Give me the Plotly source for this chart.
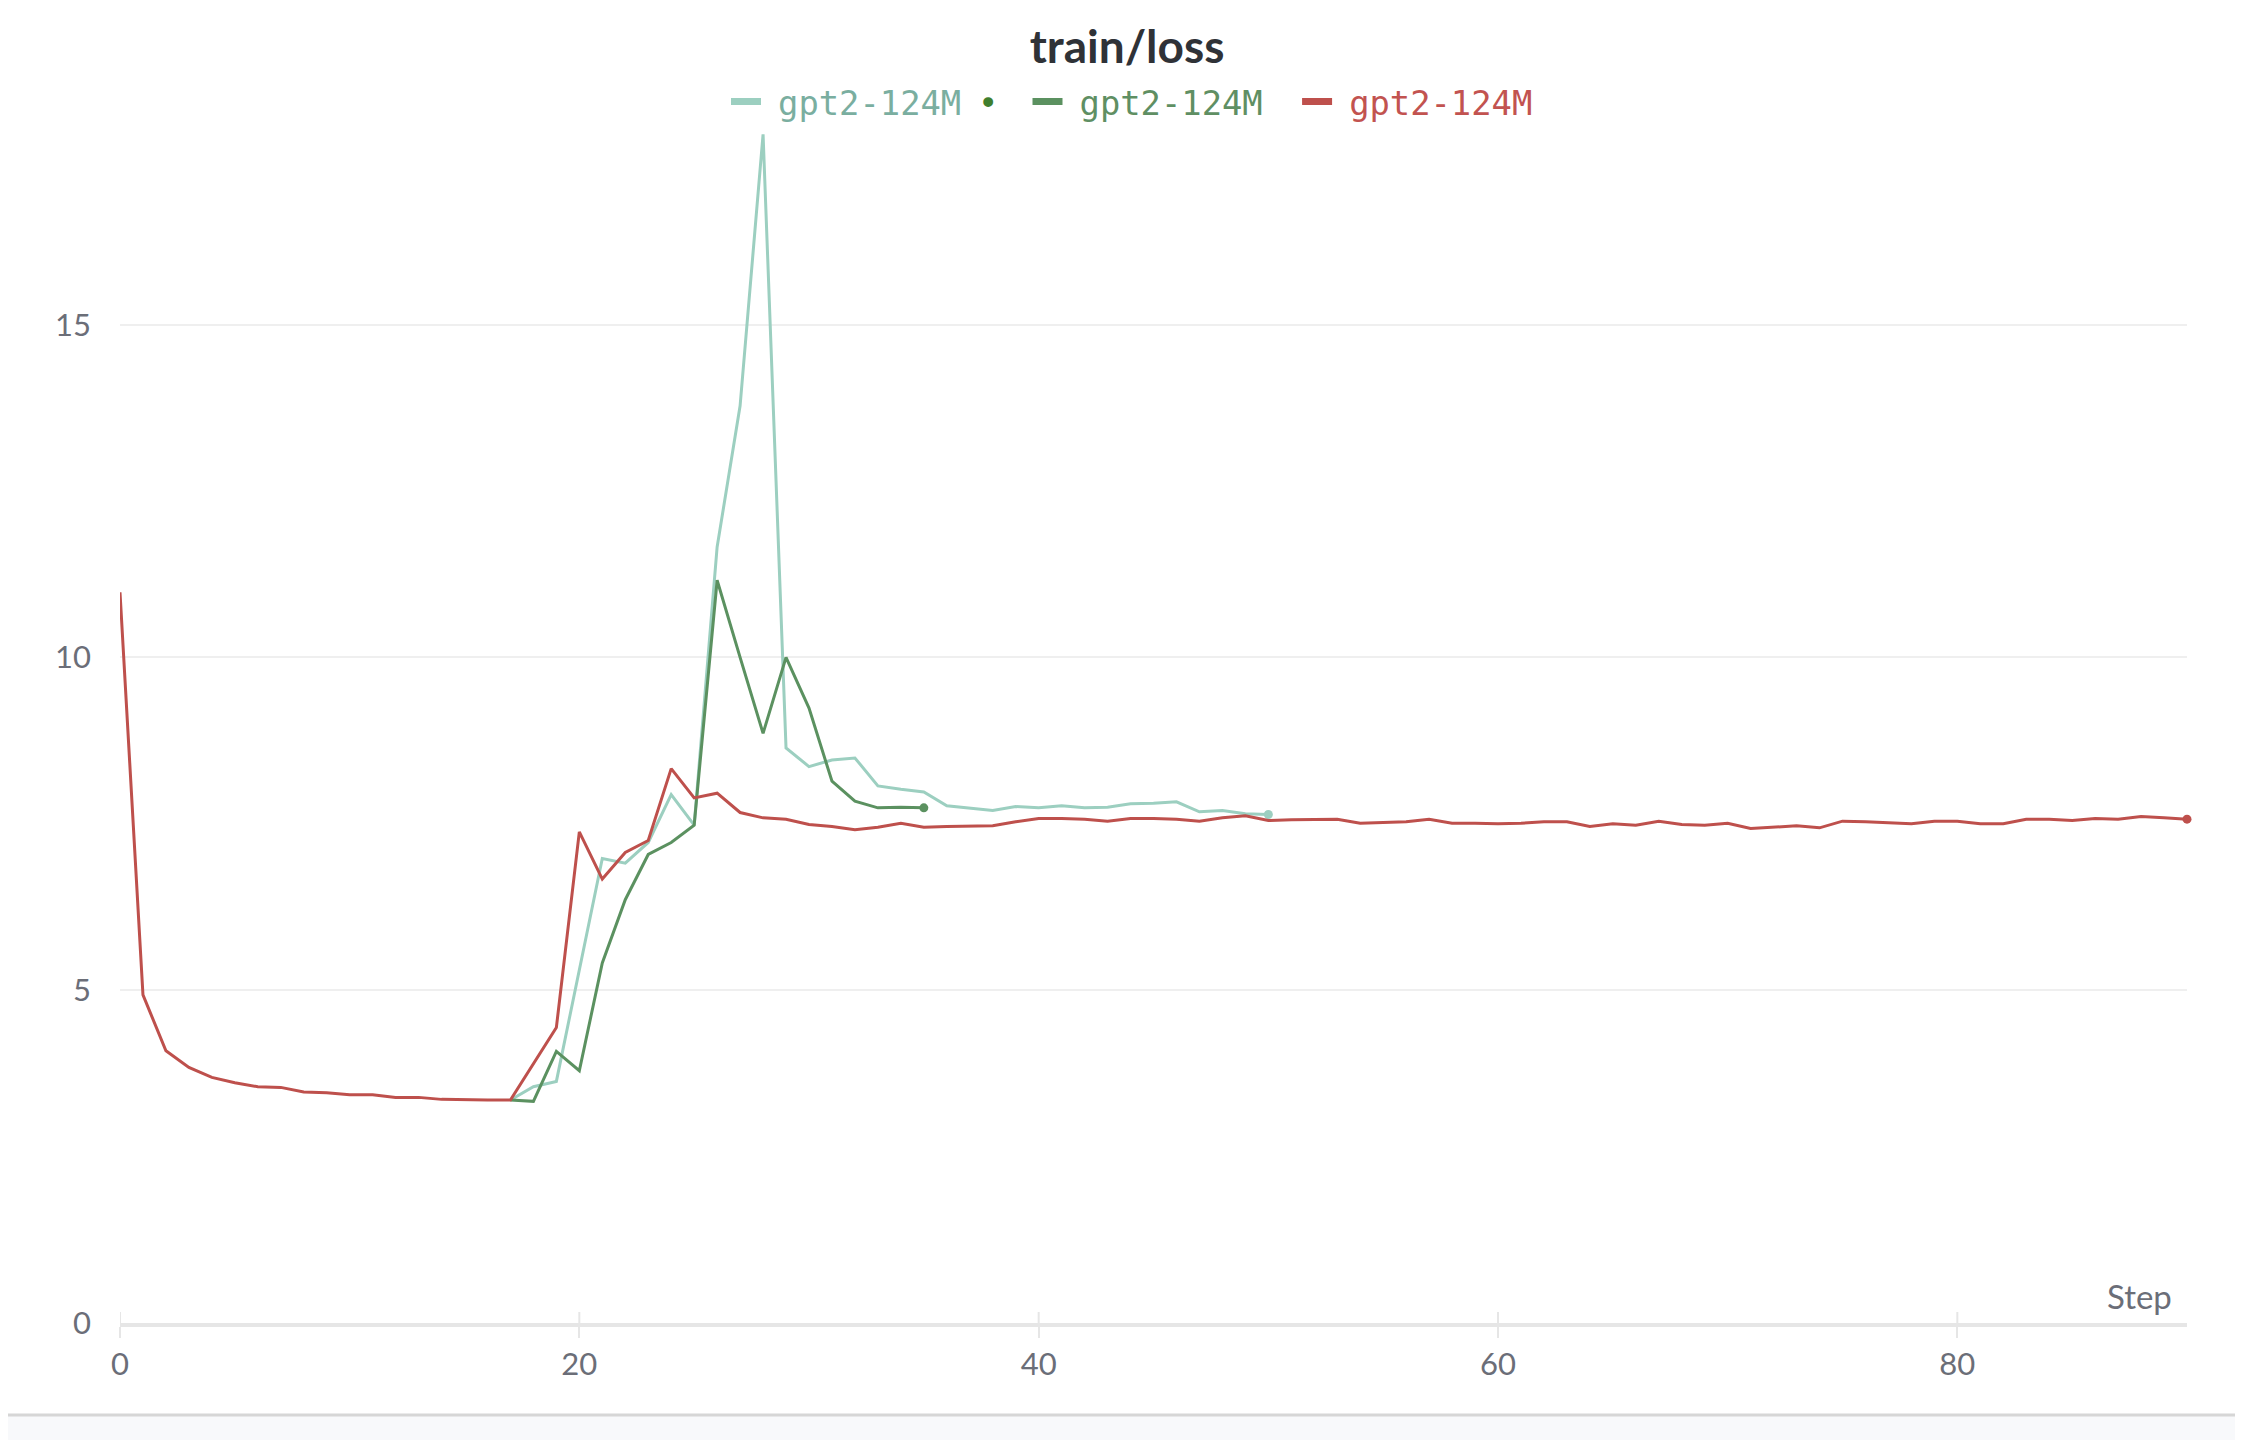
import plotly.graph_objects as go

# train/loss per step, three runs
red_steps = list(range(0, 91))
red_loss = [
    10.98, 4.93, 4.09, 3.84, 3.69, 3.61, 3.55, 3.54, 3.47, 3.46,
    3.43, 3.43, 3.39, 3.39, 3.36, 3.35, 3.35, 3.35, 3.89, 4.44,
    7.38, 6.67, 7.07, 7.25, 8.33, 7.89, 7.96, 7.67, 7.59, 7.57,
    7.49, 7.46, 7.41, 7.45, 7.51, 7.45, 7.46, 7.46, 7.47, 7.53,
    7.58, 7.58, 7.57, 7.54, 7.58, 7.58, 7.57, 7.54, 7.59, 7.62,
    7.55, 7.56, 7.57, 7.57, 7.51, 7.52, 7.53, 7.57, 7.51, 7.51,
    7.50, 7.51, 7.53, 7.53, 7.46, 7.50, 7.48, 7.54, 7.49, 7.48,
    7.51, 7.43, 7.45, 7.47, 7.44, 7.54, 7.53, 7.51, 7.50, 7.54,
    7.54, 7.50, 7.50, 7.57, 7.57, 7.55, 7.58, 7.57, 7.61, 7.59,
    7.57,
]

teal_steps = list(range(17, 51))
teal_loss = [
    3.35, 3.55, 3.63, 5.30, 6.98, 6.91, 7.22, 7.94, 7.48, 11.66,
    13.78, 17.86, 8.64, 8.36, 8.46, 8.49, 8.07, 8.02, 7.98, 7.77,
    7.73, 7.70, 7.76, 7.74, 7.77, 7.74, 7.75, 7.80, 7.81, 7.83,
    7.68, 7.70, 7.65, 7.64,
]

green_steps = list(range(17, 36))
green_loss = [
    3.35, 3.33, 4.08, 3.79, 5.41, 6.36, 7.04, 7.22, 7.48, 11.16,
    10.0, 8.86, 10.0, 9.24, 8.14, 7.84, 7.74, 7.75, 7.74,
]

run_names = ["gpt2-124M", "gpt2-124M", "gpt2-124M"]
x_ticks = [0, 20, 40, 60, 80]
y_ticks = [0, 5, 10, 15]

TEAL, TEAL_TXT = "#9ccfc0", "#7aaea0"
GREEN, GREEN_TXT = "#5b9160", "#5f8f63"
RED, RED_TXT = "#be504c", "#c25350"
DOT = "#3f7f2e"


def gap(px_size):
    # a non-breaking space at a given font size, used as a spacer
    return f"<span style='font-size:{px_size}px'>\u00a0</span>"


fig = go.Figure()

series = [
    (teal_steps, teal_loss, TEAL),
    (green_steps, green_loss, GREEN),
    (red_steps, red_loss, RED),
]
for xs, ys, col in series:
    fig.add_trace(go.Scatter(x=xs, y=ys, mode="lines", line=dict(color=col, width=3),
                             showlegend=False, hoverinfo="skip"))
    # dot at the last logged point
    fig.add_trace(go.Scatter(x=[xs[-1]], y=[ys[-1]], mode="markers",
                             marker=dict(color=col, size=9), showlegend=False,
                             cliponaxis=False, hoverinfo="skip"))

# legend-only entries (thick short swatches, coloured names)
legend_items = [
    (TEAL, gap(20) + f"<span style='color:{TEAL_TXT}'>{run_names[0]}</span>" + gap(28)
           + f"<span style='color:{DOT}'>•</span>" + gap(40)),
    (GREEN, gap(20) + f"<span style='color:{GREEN_TXT}'>{run_names[1]}</span>\u00a0" + gap(15)),
    (RED, gap(20) + f"<span style='color:{RED_TXT}'>{run_names[2]}</span>"),
]
for col, label in legend_items:
    fig.add_trace(go.Scatter(x=[None], y=[None], mode="lines",
                             line=dict(color=col, width=7), name=label))

# tick marks poking up through the x axis line
for t in x_ticks:
    fig.add_shape(type="line", xref="x", yref="y", x0=t, x1=t,
                  ysizemode="pixel", yanchor=0, y0=0, y1=11,
                  line=dict(color="#e6e6e6", width=2))

# page footer strip
fig.add_shape(type="rect", xref="paper", yref="paper",
              x0=-0.06, x1=1.03, y0=-0.0768, y1=-0.11,
              fillcolor="#f8f9fb", line=dict(width=0), layer="below")
fig.add_shape(type="line", xref="paper", yref="paper",
              x0=-0.06, x1=1.03, y0=-0.0768, y1=-0.0768,
              line=dict(color="#d6d6d6", width=3))

fig.add_annotation(text="Step", xref="paper", yref="y", x=1, y=0,
                   xanchor="right", yanchor="bottom", xshift=-13, yshift=5,
                   showarrow=False, font=dict(family="Lato", size=33, color="#6b6e78"))

fig.update_layout(
    width=2227, height=1432,
    margin=dict(l=112, r=48, t=117, b=117, autoexpand=False),
    paper_bgcolor="white", plot_bgcolor="white",
    title=dict(text="<b>train/loss</b>", x=0.5025, xref="container", y=0.9731,
               yref="container", yanchor="middle", xanchor="center",
               font=dict(family="Lato", size=46, color="#2f3237")),
    legend=dict(orientation="h", x=718 / 2227, xanchor="left", xref="container",
                y=0.9347, yref="container", yanchor="middle",
                font=dict(family="DejaVu Sans Mono", size=33.8, color=TEAL_TXT),
                itemwidth=30, bgcolor="rgba(0,0,0,0)"),
    xaxis=dict(range=[0, 90], tickvals=x_ticks, showgrid=False, zeroline=False,
               showline=True, linecolor="#e6e6e6", linewidth=4,
               ticks="outside", ticklen=11, tickwidth=2, tickcolor="#e6e6e6",
               tickfont=dict(family="Lato", size=31, color="#6b6e78")),
    yaxis=dict(range=[0, 18.0], tickvals=y_ticks, showgrid=True, gridcolor="#efefef",
               gridwidth=2, zeroline=False, showline=False, ticks="",
               ticklabelstandoff=28,
               tickfont=dict(family="Lato", size=31, color="#6b6e78")),
)

fig.write_html("out.html")
